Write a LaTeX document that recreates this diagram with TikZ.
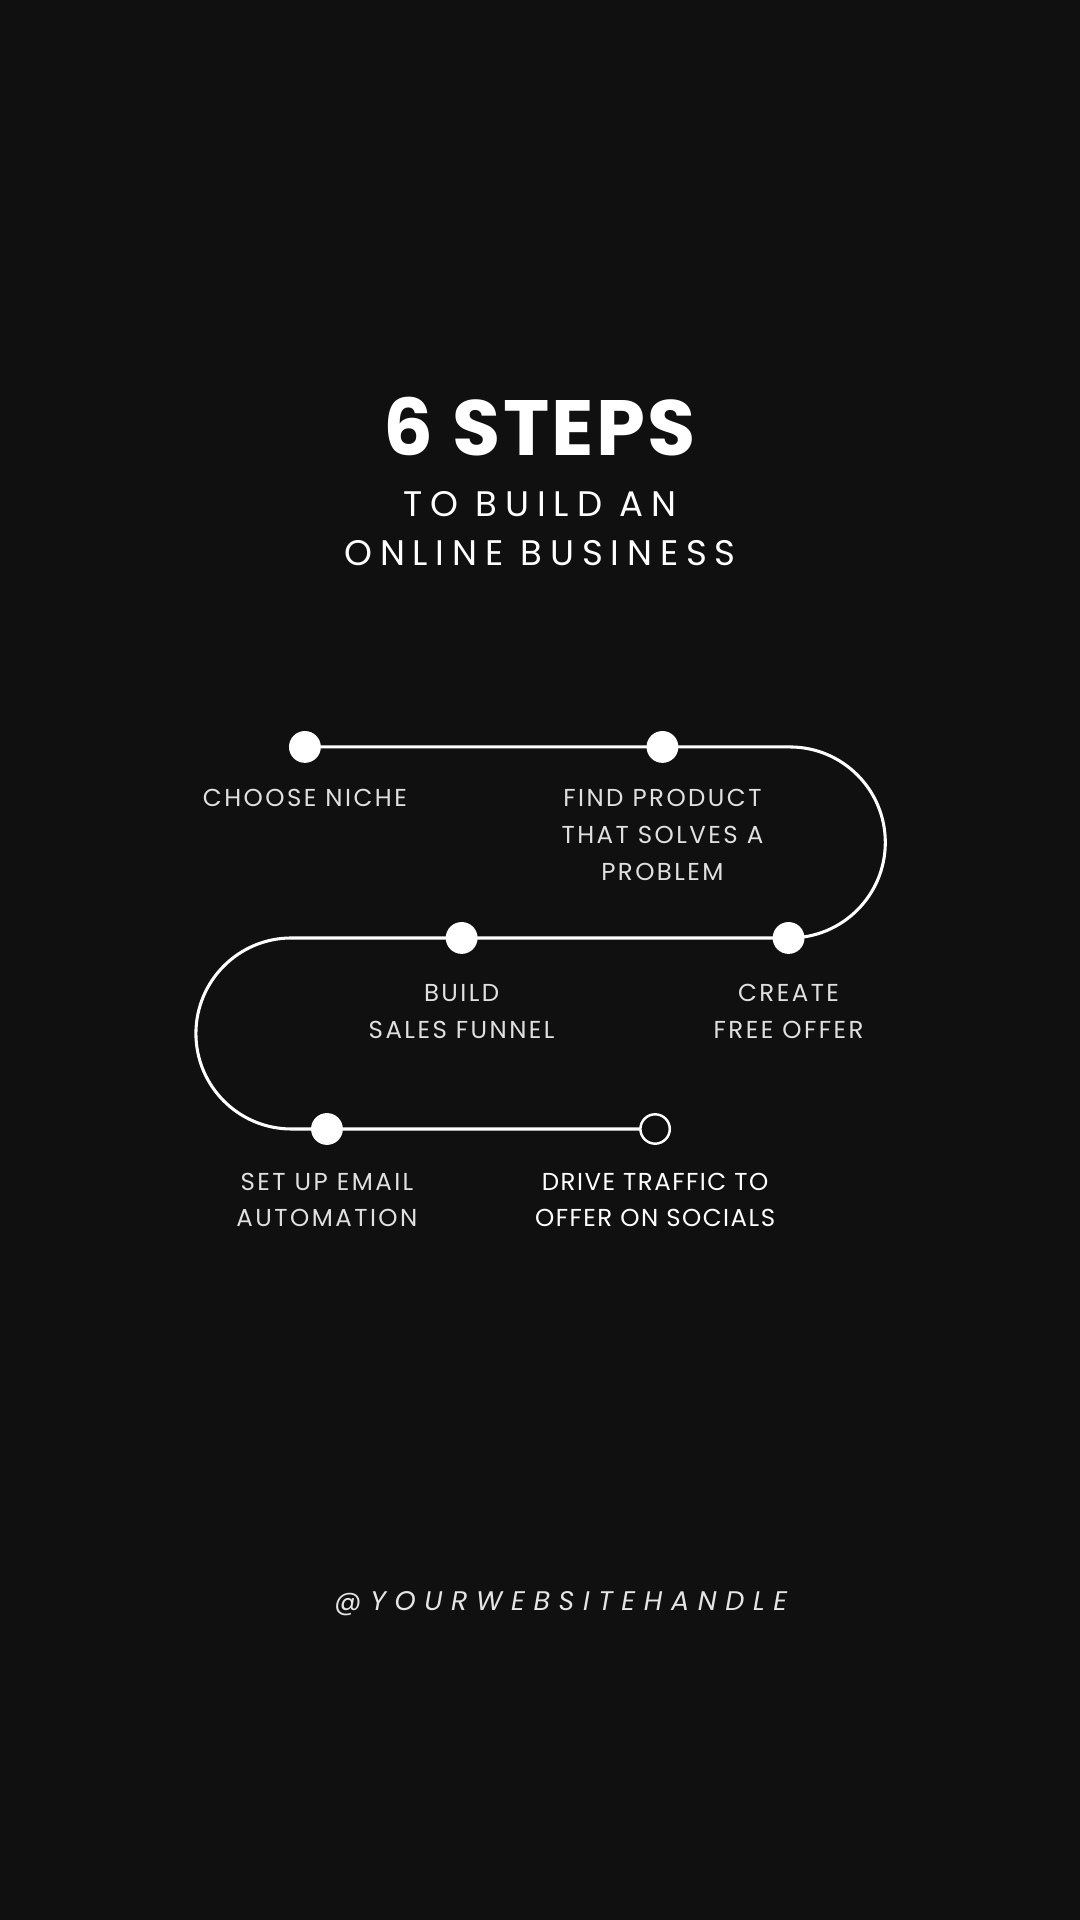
\documentclass[tikz,border=0pt]{standalone}
\usepackage{fontspec}
\setmainfont{Poppins}
\definecolor{bg}{HTML}{101010}
\begin{document}
\begin{tikzpicture}[x=1pt,y=-1pt,
  lbl/.style={text=white!88!black,align=center,font=\fontsize{20}{30}\selectfont\addfontfeatures{LetterSpace=10}},
  dot/.style={circle,fill=white,minimum size=26pt,inner sep=0pt},
  hol/.style={circle,draw=white,line width=2pt,fill=bg,minimum size=24pt,inner sep=0pt}]
\fill[bg] (0,0) rectangle (882,1568);
\useasboundingbox (0,0) rectangle (882,1568);
\node[text=white,font=\fontsize{64}{64}\selectfont\bfseries\addfontfeatures{LetterSpace=3}] (t) at (441,348) {6 STEPS};
\node[text=white,align=center,font=\fontsize{29}{40}\selectfont\addfontfeatures{LetterSpace=22}] (s) at (441,432) {TO BUILD AN\\ONLINE BUSINESS};
\coordinate (c1) at (645,610);
\coordinate (c2) at (238,766);
\draw[white,line width=2.5pt] (249,610) -- (c1) arc[start angle=-90,end angle=90,radius=78] -- (c2) arc[start angle=-90,end angle=-270,radius=78] -- (535,922);
\node[dot] (d1) at (249,610) {};
\node[dot] (d2) at (541,610) {};
\node[dot] (d3) at (644,766) {};
\node[dot] (d4) at (377,766) {};
\node[dot] (d5) at (267,922) {};
\node[hol] (d6) at (535,922) {};
\node[lbl] (l1) at (249,652) {CHOOSE NICHE};
\node[lbl] (l2) at (541,682) {FIND PRODUCT\\THAT SOLVES A\\PROBLEM};
\node[lbl] (l3) at (644,826) {CREATE\\FREE OFFER};
\node[lbl] (l4) at (377,826) {BUILD\\SALES FUNNEL};
\node[lbl] (l5) at (267,980) {SET UP EMAIL\\AUTOMATION};
\node[lbl,text=white,font=\fontsize{20}{30}\selectfont\addfontfeatures{LetterSpace=6}] (l6) at (535,980) {DRIVE TRAFFIC TO\\OFFER ON SOCIALS};
\node[text=white!90!black,font=\fontsize{22}{22}\selectfont\itshape\addfontfeatures{LetterSpace=32}] (h) at (458,1310) {@YOURWEBSITEHANDLE};
\end{tikzpicture}
\end{document}
